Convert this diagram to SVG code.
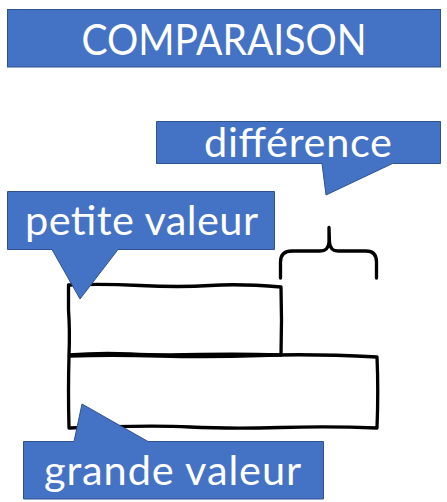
<svg xmlns="http://www.w3.org/2000/svg" width="447" height="502" viewBox="0 0 447 502">
<style>
.box{fill:#4472C4;stroke:#2F528F;stroke-width:1;}
.lbl{fill:#ffffff;font-family:Lato,"Open Sans","Liberation Sans",sans-serif;text-anchor:middle;font-size:41.5px;}
.hand{fill:none;stroke:#000000;stroke-width:3.3;stroke-linejoin:round;stroke-linecap:round;}
</style>
<rect width="447" height="502" fill="#ffffff"/>
<g id="bar-grande">
<path class="hand" d="M69,356 Q110,354.5 160,356 T260,355.5 T377,357 Q378.5,390 377,428 Q330,426 280,427.5 T190,427 T69,428 Q68,390 69,356 Z"/>
</g>
<g id="bar-petite">
<path class="hand" d="M68.5,285 Q100,283.5 140,285.5 T210,285.5 T281,287 L281.5,320 L281,355 Q240,353.5 200,354.5 T130,354 T69,355 Q70,330 68.5,310 Z"/>
</g>
<g id="connectors">
<path class="hand" d="M280.5,278 L280.5,262 Q280.5,251 292,251 L320,251 Q328.5,251 329,242 L329,227.5 L329.5,242 Q330,251 338,251 L366,251 Q376.5,251 376.5,262 L376.5,278"/>
</g>
<g id="title">
<rect class="box" x="7.5" y="9.5" width="433" height="57.5"/>
<text class="lbl" x="224" y="54.5" style="font-size:42.5px" textLength="285" lengthAdjust="spacingAndGlyphs">COMPARAISON</text>
</g>
<g id="callout-difference">
<path class="box" d="M156.5,121.5 H440.5 V163.5 H392.5 L326,195 L322,163.5 H156.5 Z"/>
<text class="lbl" x="298" y="157" textLength="188">différence</text>
</g>
<g id="callout-petite">
<path class="box" d="M7.5,191.5 H274.5 V249.5 H118 L80,299 L52,249.5 H7.5 Z"/>
<text class="lbl" x="141.5" y="234.5" textLength="233">petite valeur</text>
</g>
<g id="callout-grande">
<path class="box" d="M23.5,441.5 H74 L82,404 L148,441.5 H323.5 V499 H23.5 Z"/>
<text class="lbl" x="172.5" y="485" textLength="257">grande valeur</text>
</g>
</svg>
